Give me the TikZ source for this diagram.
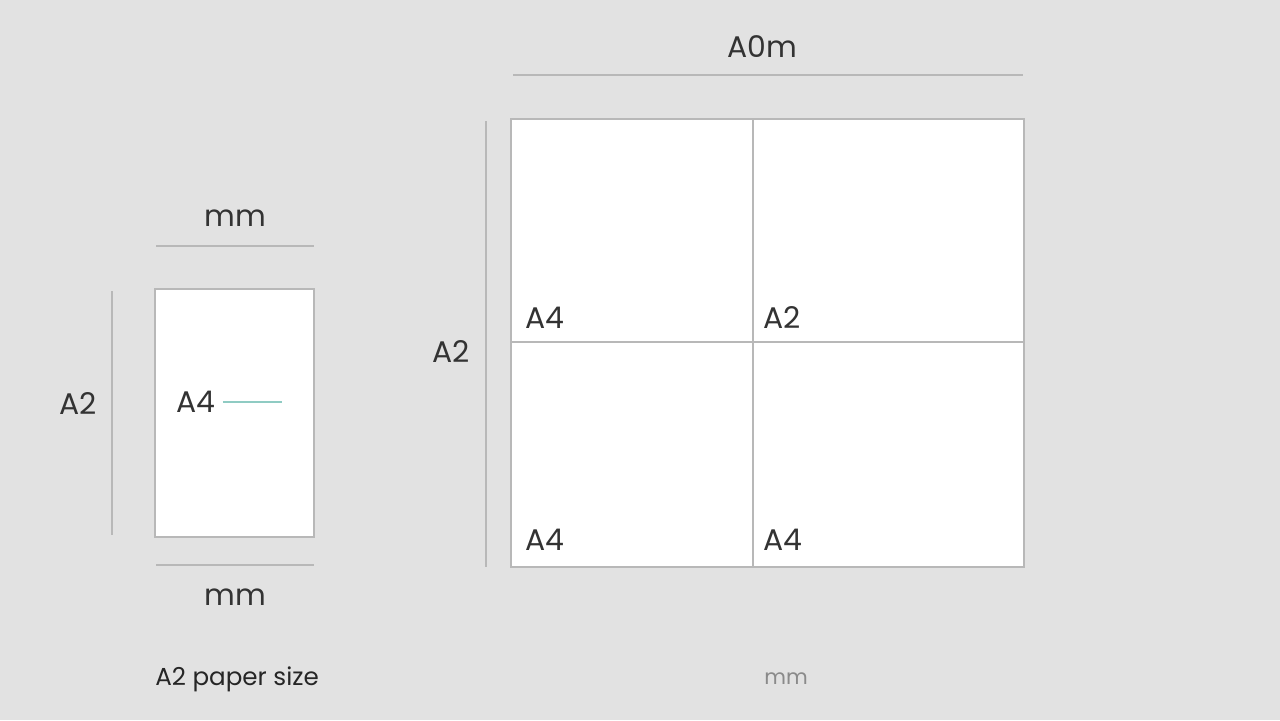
\documentclass[tikz,border=0pt]{standalone}
\usepackage{fontspec}
\setmainfont{Poppins}
\usetikzlibrary{positioning}
\definecolor{bg}{HTML}{E2E2E2}
\definecolor{edge}{HTML}{B8B8B8}
\definecolor{ink}{HTML}{333333}
\definecolor{soft}{HTML}{8A8A8A}
\definecolor{mint}{HTML}{8FCBC3}
\tikzset{
  lbl/.style={text=ink, inner sep=0pt, font=\fontsize{17}{20}\selectfont},
  dim/.style={draw=edge, line width=1.2pt},
  sheet/.style={draw=edge, fill=white, line width=1.2pt},
}

\begin{document}
\begin{tikzpicture}[x=0.02cm, y=-0.02cm]
  \fill[bg] (0,0) rectangle (1280,720);
  \useasboundingbox (0,0) rectangle (1280,720);

  % small sheet
  \draw[sheet] (155,289) rectangle (314,537);
  \coordinate (sTopL) at (156,246);  \coordinate (sTopR) at (314,246);
  \coordinate (sBotL) at (156,565);  \coordinate (sBotR) at (314,565);
  \coordinate (sLeftT) at (112,291); \coordinate (sLeftB) at (112,535);
  \draw[dim] (sTopL) -- (sTopR);
  \draw[dim] (sBotL) -- (sBotR);
  \draw[dim] (sLeftT) -- (sLeftB);
  \node[lbl] (sTop) at (235,218) {mm};
  \node[lbl] (sBot) at (235,597) {mm};
  \node[lbl] (sSide) at (78,404) {A2};
  \node[lbl] (sIn) at (196,402) {A4};
  \coordinate (sTick) at (282,402);
  \draw[mint, line width=1.2pt] ([xshift=4pt]sIn.east) -- (sTick);
  \node[lbl, text=black!85, font=\fontsize{14}{17}\selectfont] (cap) at (237,679) {A2 paper size};

  % large sheet
  \draw[sheet] (511,119) rectangle (1024,567);
  \draw[dim] (753,119) -- (753,567);
  \draw[dim] (511,342) -- (1024,342);
  \coordinate (bTopL) at (513,75);   \coordinate (bTopR) at (1023,75);
  \coordinate (bLeftT) at (486,121); \coordinate (bLeftB) at (486,567);
  \draw[dim] (bTopL) -- (bTopR);
  \draw[dim] (bLeftT) -- (bLeftB);
  \node[lbl] (bTop) at (762,47) {A0m};
  \node[lbl] (bSide) at (451,352) {A2};
  \node[lbl, anchor=west] (q1) at (525,318) {A4};
  \node[lbl, anchor=west] (q2) at (763,318) {A2};
  \node[lbl, anchor=west] (q3) at (525,540) {A4};
  \node[lbl, anchor=west] (q4) at (763,540) {A4};
  \node[lbl, text=soft, font=\fontsize{12}{14}\selectfont] (bBot) at (786,679) {mm};
\end{tikzpicture}
\end{document}
